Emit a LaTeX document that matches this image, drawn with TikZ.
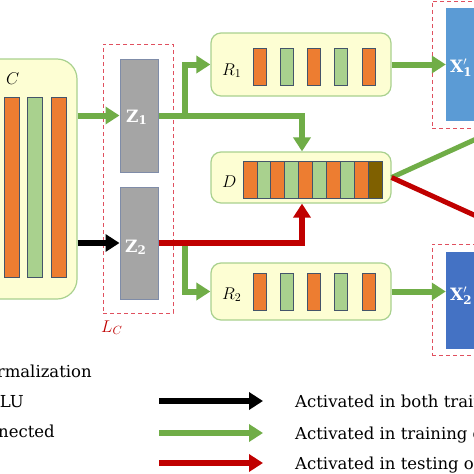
\RequirePackage{fix-cm}
\documentclass[tikz,border=0pt]{standalone}
\usepackage{fontspec}
\setmainfont{DejaVu Serif}
\usetikzlibrary{arrows.meta,calc}
\definecolor{boxfill}{HTML}{FDFED3}
\definecolor{boxline}{HTML}{A9D18E}
\definecolor{bargreen}{HTML}{A9D18E}
\definecolor{barorange}{HTML}{ED7D31}
\definecolor{barline}{HTML}{44546A}
\definecolor{arrgreen}{HTML}{70AD47}
\definecolor{arrred}{HTML}{C00000}
\definecolor{zgray}{HTML}{A5A5A5}
\definecolor{zline}{HTML}{7F8CA8}
\definecolor{xblueA}{HTML}{5B9BD5}
\definecolor{xblueB}{HTML}{4472C4}
\definecolor{dashred}{HTML}{E0505F}
\definecolor{brownbar}{HTML}{7F6000}
\newcommand\lblfont{\fontsize{17}{19}\selectfont}
\newcommand\legfont{\fontsize{16.5}{20}\selectfont}
\begin{document}
\begin{tikzpicture}[x=1pt,y=-1pt,
  ybox/.style={draw=boxline,fill=boxfill,line width=1.2pt,rounded corners=10pt,inner sep=0pt},
  zbox/.style={draw=zline,fill=zgray,line width=1pt,inner sep=0pt},
  dbox/.style={draw=dashred,line width=1pt,dash pattern=on 4pt off 3pt,inner sep=0pt},
  xbox/.style={inner sep=0pt,draw=none},
  bar/.style={draw=barline,line width=0.7pt},
  lbl/.style={anchor=base west,inner sep=0pt,font=\lblfont},
  leg/.style={inner sep=0pt,font=\legfont},
  garrow/.style={draw=arrgreen,line width=6pt,-{Triangle[length=14pt,width=17pt]}},
  rarrow/.style={draw=arrred,line width=6pt,-{Triangle[length=14pt,width=17pt]}},
  karrow/.style={draw=black,line width=6pt,-{Triangle[length=14pt,width=17pt]}},
  gline/.style={draw=arrgreen,line width=5pt},
  rline/.style={draw=arrred,line width=5pt}]
\useasboundingbox[fill=white] (0,0) rectangle (474,474);

% dashed groups
\node[dbox,minimum width=70pt,minimum height=269pt] (LC) at (138,178.5) {};
\node[dbox,minimum width=58pt,minimum height=127pt] (X1d) at (461,64.5) {};
\node[dbox,minimum width=58pt,minimum height=111pt] (X2d) at (461,299.5) {};

% C block
\node[ybox,rounded corners=20pt,minimum width=107pt,minimum height=240pt] (C) at (23.5,179) {};
\foreach \x/\c in {4/barorange,27/bargreen,51/barorange}
  \draw[bar,fill=\c] (\x,97) rectangle ++(15,180);
\node[lbl] (Clab) at (6,84) {$C$};

% Z blocks
\node[zbox,minimum width=38pt,minimum height=113pt] (Z1) at (139,115.5) {};
\node[zbox,minimum width=38pt,minimum height=112pt] (Z2) at (139,243) {};
\node[lbl,text=white] (Z1lab) at (126,122) {$\mathbf{Z}_{\mathbf{1}}$};
\node[lbl,text=white] (Z2lab) at (125,252) {$\mathbf{Z}_{\mathbf{2}}$};
\node[lbl,text=arrred] (LClab) at (101,332) {$L_C$};

% R and D blocks
\node[ybox,minimum width=180pt,minimum height=63pt] (R1) at (301,64.5) {};
\node[ybox,minimum width=180pt,minimum height=57pt] (R2) at (301,291.5) {};
\node[ybox,minimum width=180pt,minimum height=51pt] (D) at (301,177.5) {};
\foreach \x/\c in {253/barorange,280/bargreen,307/barorange,334/bargreen,362/barorange}{
  \draw[bar,fill=\c] (\x,48) rectangle ++(13,37);
  \draw[bar,fill=\c] (\x,273) rectangle ++(13,37);
}
\foreach \i/\c in {0/barorange,1/bargreen,2/barorange,3/bargreen,4/barorange,5/bargreen,6/barorange,7/bargreen,8/barorange,9/brownbar}
  \draw[bar,fill=\c] (243+13.9*\i,161) rectangle ++(13.9,37);
\node[lbl] (R1lab) at (222,75) {$R_1$};
\node[lbl] (R2lab) at (222,299) {$R_2$};
\node[lbl] (Dlab) at (222,187) {$D$};

% X' blocks
\node[xbox,fill=xblueA,minimum width=44pt,minimum height=113pt] (X1) at (468,64.5) {};
\node[xbox,fill=xblueB,minimum width=44pt,minimum height=97pt] (X2) at (468,300.5) {};
\node[lbl,text=white] (X1lab) at (450,72) {$\mathbf{X}'_{\mathbf{1}}$};
\node[lbl,text=white] (X2lab) at (450,300) {$\mathbf{X}'_{\mathbf{2}}$};

% connectors
\coordinate (bx) at (185,0);
\coordinate (jx) at (302,0);
\coordinate (gEnd) at (485,135);
\coordinate (rEnd) at (485,220);
\draw[garrow] (C.east |- Z1.west) -- (Z1.west);
\draw[karrow] (C.east |- Z2.west) -- (Z2.west);
\draw[garrow] (Z1.east -| bx) |- (R1.west);
\draw[garrow] (Z1.east) -| (jx |- D.north);
\draw[garrow] (Z2.east -| bx) |- (R2.west);
\draw[rarrow] (Z2.east) -| (jx |- D.south);
\draw[garrow] (R1.east) -- (R1.east -| X1.west);
\draw[garrow] (R2.east) -- (R2.east -| X2.west);
\draw[gline] (D.east) -- (gEnd);
\draw[rline] (D.east) -- (rEnd);

% legend
\coordinate (k1a) at (159,401); \coordinate (k1b) at (263,401);
\coordinate (k2a) at (159,433); \coordinate (k2b) at (263,433);
\coordinate (k3a) at (159,463); \coordinate (k3b) at (263,463);
\draw[karrow] (k1a) -- (k1b);
\draw[garrow] (k2a) -- (k2b);
\draw[rarrow] (k3a) -- (k3b);
\node[leg,anchor=base west] (t1) at (295,407) {Activated in both training};
\node[leg,anchor=base west] (t2) at (295,439) {Activated in training only};
\node[leg,anchor=base west] (t3) at (295,469) {Activated in testing only};
\node[leg,anchor=base east] (t4) at (92,377) {Normalization};
\node[leg,anchor=base east] (t5) at (24,407) {ReLU};
\node[leg,anchor=base east] (t6) at (55,437) {connected};
\end{tikzpicture}
\end{document}
